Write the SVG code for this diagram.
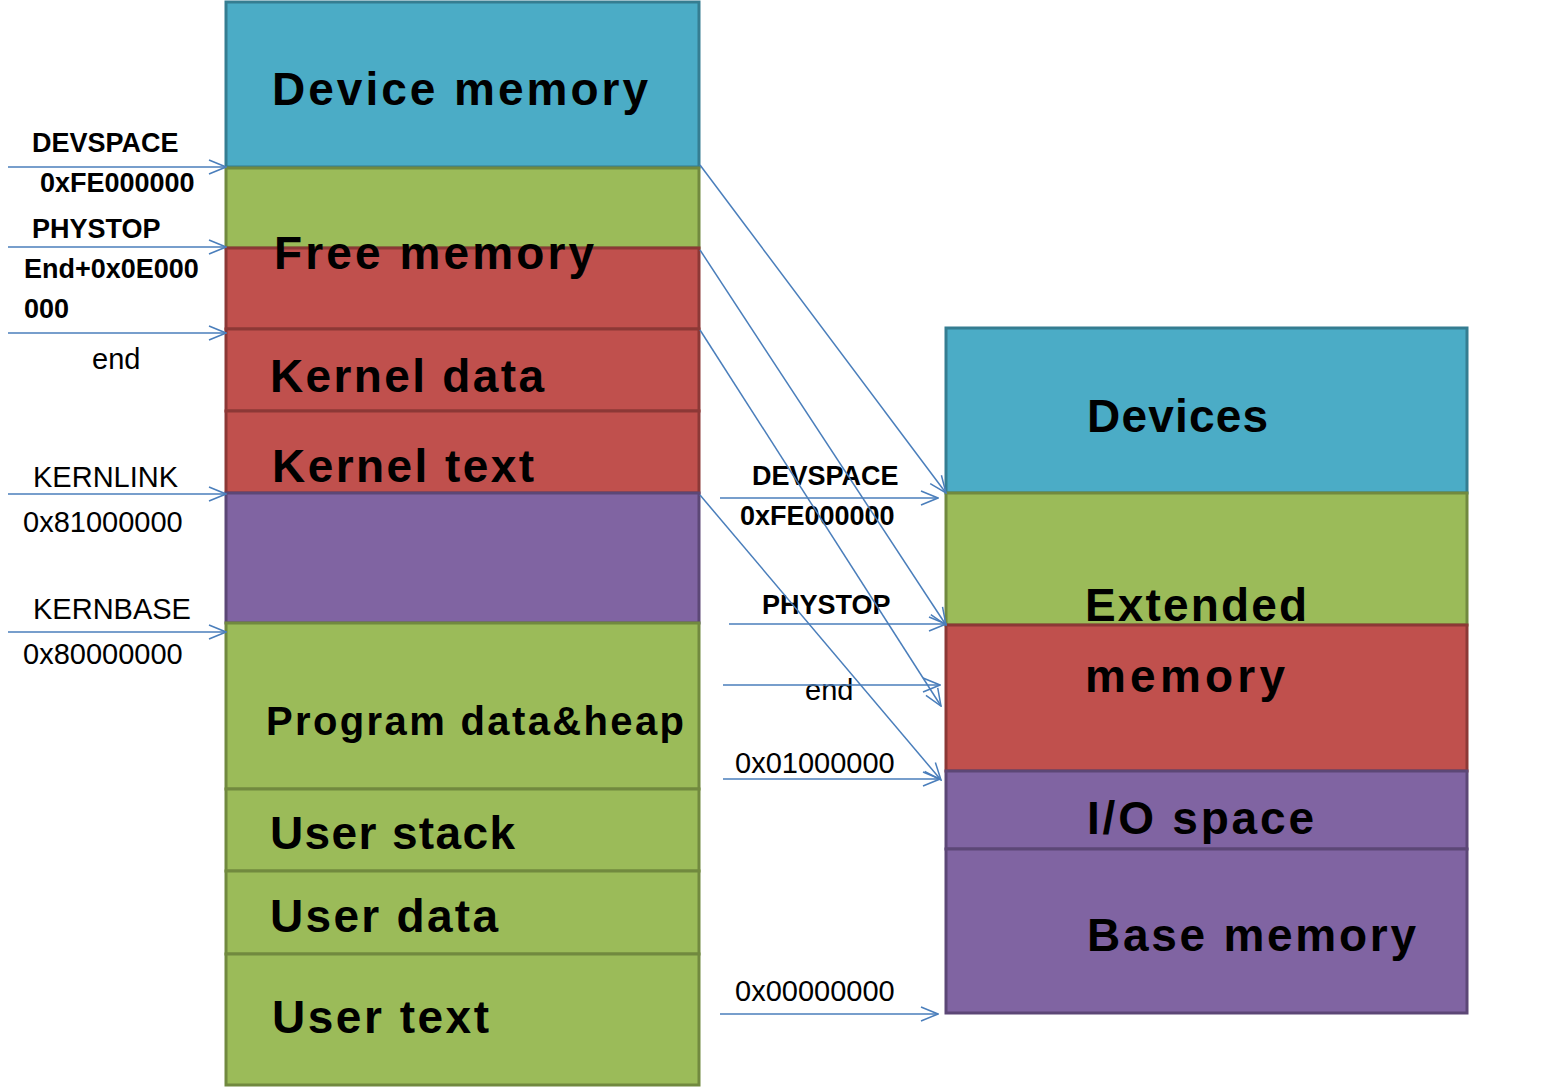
<svg xmlns="http://www.w3.org/2000/svg" width="1549" height="1087" viewBox="0 0 1549 1087">
<style>
.b{stroke:#357D91;fill:#4BACC6;stroke-width:3}
.g{stroke:#71893F;fill:#9BBB59;stroke-width:3}
.r{stroke:#8C3836;fill:#C0504D;stroke-width:3}
.p{stroke:#5C4776;fill:#8064A2;stroke-width:3}
text{font-family:"Liberation Sans",Arial,sans-serif;fill:#000}
.L{font-size:46px;font-weight:bold}
.M{font-size:40px;font-weight:bold}
.s{font-size:27px;font-weight:bold}
.n{font-size:29px}
.c line{stroke:#4A7EBB;stroke-width:1.5;marker-end:url(#a)}
</style>
<defs><marker id="a" viewBox="0 0 20 20" refX="19" refY="10" markerWidth="20" markerHeight="20" markerUnits="userSpaceOnUse" orient="auto"><path d="M2,3 L19,10 L2,17" fill="none" stroke="#4A7EBB" stroke-width="1.5"/></marker></defs>
<g id="left">
<rect class="b" x="226" y="2" width="473" height="165"/>
<rect class="g" x="226" y="168" width="473" height="80"/>
<rect class="r" x="226" y="248" width="473" height="81"/>
<rect class="r" x="226" y="329" width="473" height="82"/>
<rect class="r" x="226" y="411" width="473" height="82"/>
<rect class="p" x="226" y="493" width="473" height="130"/>
<rect class="g" x="226" y="623" width="473" height="166"/>
<rect class="g" x="226" y="789" width="473" height="82"/>
<rect class="g" x="226" y="871" width="473" height="83"/>
<rect class="g" x="226" y="954" width="473" height="131"/>
<text class="L" x="272" y="105" textLength="376">Device memory</text>
<text class="L" x="274" y="269" textLength="320">Free memory</text>
<text class="L" x="270" y="392" textLength="274">Kernel data</text>
<text class="L" x="272" y="482" textLength="262">Kernel text</text>
<text class="M" x="266" y="735" textLength="418">Program data&amp;heap</text>
<text class="L" x="270" y="849" textLength="245">User stack</text>
<text class="L" x="270" y="932" textLength="228">User data</text>
<text class="L" x="272" y="1033" textLength="217">User text</text>
</g>
<g id="right">
<rect class="b" x="946" y="328" width="521" height="165"/>
<rect class="g" x="946" y="493" width="521" height="132"/>
<rect class="r" x="946" y="625" width="521" height="146"/>
<rect class="p" x="946" y="771" width="521" height="78"/>
<rect class="p" x="946" y="849" width="521" height="164"/>
<text class="L" x="1087" y="432" textLength="181">Devices</text>
<text class="L" x="1085" y="621" textLength="222">Extended</text>
<text class="L" x="1085" y="692" textLength="200">memory</text>
<text class="L" x="1087" y="834" textLength="227">I/O space</text>
<text class="L" x="1087" y="951" textLength="329">Base memory</text>
</g>
<g id="labels">
<text class="s" x="32" y="152">DEVSPACE</text>
<text class="s" x="40" y="192">0xFE000000</text>
<text class="s" x="32" y="238">PHYSTOP</text>
<text class="s" x="24" y="278">End+0x0E000</text>
<text class="s" x="24" y="318">000</text>
<text class="n" x="92" y="369">end</text>
<text class="n" x="33" y="487">KERNLINK</text>
<text class="n" x="23" y="532">0x81000000</text>
<text class="n" x="33" y="619">KERNBASE</text>
<text class="n" x="23" y="664">0x80000000</text>
<text class="s" x="752" y="485">DEVSPACE</text>
<text class="s" x="740" y="525">0xFE000000</text>
<text class="s" x="762" y="614">PHYSTOP</text>
<text class="n" x="805" y="700">end</text>
<text class="n" x="735" y="773">0x01000000</text>
<text class="n" x="735" y="1001">0x00000000</text>
</g>
<g class="c" id="connectors">
<line x1="8" y1="167" x2="226" y2="167"/>
<line x1="8" y1="247" x2="226" y2="247"/>
<line x1="8" y1="333" x2="226" y2="333"/>
<line x1="8" y1="494" x2="226" y2="494"/>
<line x1="8" y1="632" x2="226" y2="632"/>
<line x1="720" y1="498" x2="938" y2="498"/>
<line x1="729" y1="624" x2="946" y2="624"/>
<line x1="723" y1="685" x2="940" y2="685"/>
<line x1="723" y1="779" x2="940" y2="779"/>
<line x1="720" y1="1014" x2="938" y2="1014"/>
<line x1="700" y1="165" x2="946" y2="493"/>
<line x1="700" y1="250" x2="946" y2="625"/>
<line x1="700" y1="330" x2="941" y2="706"/>
<line x1="700" y1="495" x2="941" y2="780"/>
</g>
</svg>
